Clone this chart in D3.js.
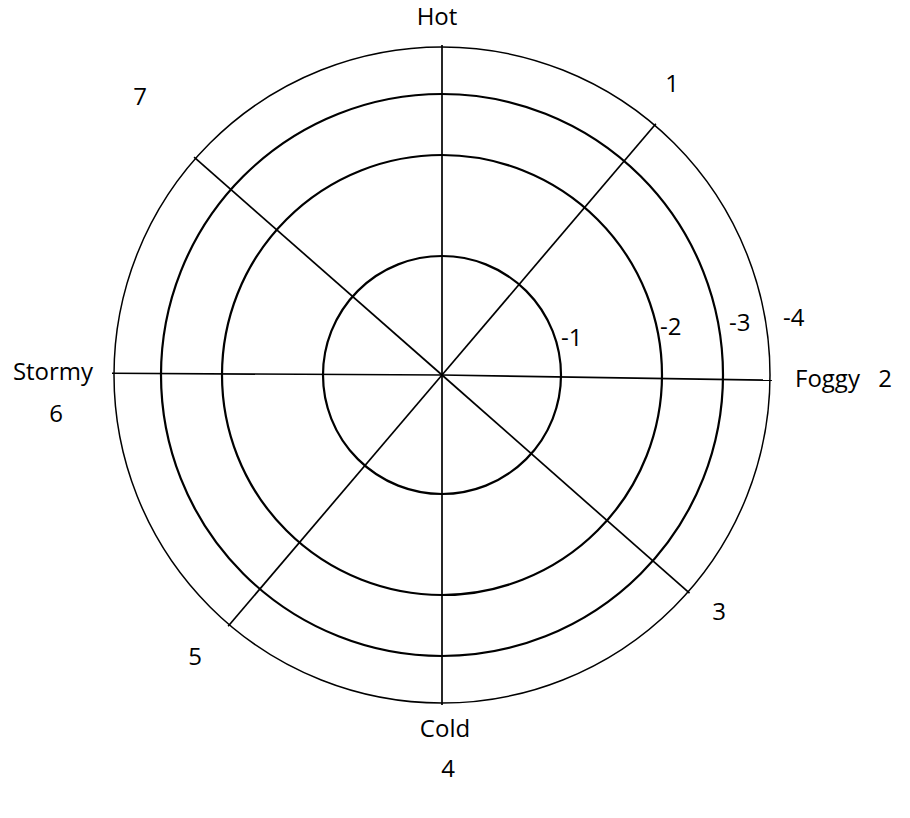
<!DOCTYPE html>
<html>
<head>
<meta charset="utf-8">
<script src="https://cdn.jsdelivr.net/npm/d3@7/dist/d3.min.js"></script>
<style>
  body { margin: 0; background: #fff; }
  svg text { font-family: "Open Sans", sans-serif; font-size: 24px; fill: #000; }
</style>
</head>
<body>
<svg width="910" height="818"></svg>
<script>
// spokes, clockwise from the top
const spokeNames   = ['Hot', '', 'Foggy', '', 'Cold', '', 'Stormy', ''];
const spokeNumbers = ['', '1', '2', '3', '4', '5', '6', '7'];
const spokeAngles  = [0, 40.4, 90.9, 131.4, 180, 220.4, 270.3, 311.3]; // degrees

// rings
const ringValues = [-1, -2, -3, -4];

const svg = d3.select('svg');
const cx = 442, cy = 375;

const g = svg.append('g')
  .attr('transform', `translate(${cx},${cy})`);

// ring value -> radius (rings are not evenly spaced)
const rscale = d3.scaleLinear()
  .domain([0, -1, -2, -3, -4])
  .range([0, 119, 220, 281, 328]);

const ascale = d3.scaleLinear()
  .domain([0, 360])
  .range([0, 2 * Math.PI]);

const px = (a, r) => r * Math.sin(ascale(a));
const py = (a, r) => -r * Math.cos(ascale(a));

// rings
g.selectAll('circle.ring').data(ringValues)
  .enter().append('circle')
  .attr('class', 'ring')
  .attr('r', d => rscale(d))
  .attr('fill', 'none')
  .attr('stroke', '#000')
  .attr('stroke-width', d => d === -4 ? 1.5 : 2.2);

// spokes
const outer = rscale(d3.min(ringValues)) + 2;
g.selectAll('line.spoke').data(spokeAngles)
  .enter().append('line')
  .attr('class', 'spoke')
  .attr('x1', 0).attr('y1', 0)
  .attr('x2', d => px(d, outer))
  .attr('y2', d => py(d, outer))
  .attr('stroke', '#000')
  .attr('stroke-width', 1.7);

// ring labels, just right of each ring above the Foggy spoke
const ringLabelDx = [0, -2, 6, 13];
const ringLabelDy = [-29, -40, -44, -49];
g.selectAll('text.ringlab').data(ringValues)
  .enter().append('text')
  .attr('class', 'ringlab')
  .attr('x', (d, i) => rscale(d) + ringLabelDx[i])
  .attr('y', (d, i) => ringLabelDy[i])
  .text(d => d);

// spoke label layout (offsets from centre, text baseline)
const nameAt = {
  Hot:    [-5, -350, 'middle'],
  Foggy:  [353, 12, 'start'],
  Cold:   [3, 362, 'middle'],
  Stormy: [-389, 5, 'middle']
};
const numberAt = {
  '1': [230, -283], '2': [443, 12], '3': [277, 245], '4': [6, 402],
  '5': [-247, 290], '6': [-386, 47], '7': [-302, -270]
};

const labels = spokeNames.map((n, i) => ({ name: n, num: spokeNumbers[i] }));

g.selectAll('text.name').data(labels.filter(d => d.name))
  .enter().append('text')
  .attr('class', 'name')
  .attr('x', d => nameAt[d.name][0])
  .attr('y', d => nameAt[d.name][1])
  .attr('text-anchor', d => nameAt[d.name][2])
  .text(d => d.name);

g.selectAll('text.num').data(labels.filter(d => d.num))
  .enter().append('text')
  .attr('class', 'num')
  .attr('x', d => numberAt[d.num][0])
  .attr('y', d => numberAt[d.num][1])
  .attr('text-anchor', 'middle')
  .text(d => d.num);
</script>
</body>
</html>
